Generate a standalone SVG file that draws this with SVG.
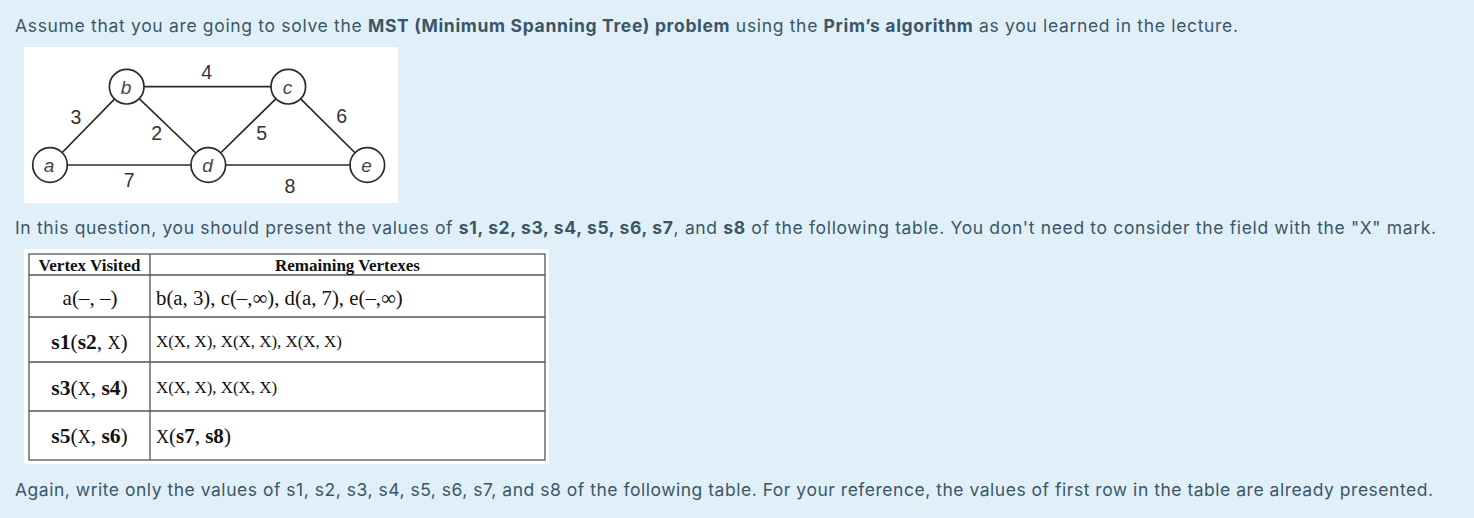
<svg xmlns="http://www.w3.org/2000/svg" width="1474" height="518" viewBox="0 0 1474 518">
<style>
.p{font-family:Inter,"Noto Sans",sans-serif;font-size:17.5px;fill:#3b5666}
.b{font-weight:bold}
.edge{stroke:#2a2a2a;stroke-width:1.7}
.node circle{fill:#fff;stroke:#2a2a2a;stroke-width:1.7}
.nl{font-family:"Liberation Sans",Arial,sans-serif;font-style:italic;font-size:19px;fill:#444;text-anchor:middle}
.wl{font-family:"Liberation Sans",Arial,sans-serif;font-size:19.5px;fill:#333;text-anchor:middle}
.tl{stroke:#555;stroke-width:1.3;fill:none}
.t{font-family:"Liberation Serif","Times New Roman",serif;fill:#111}
.h{font-size:17px;font-weight:bold;text-anchor:middle}
</style>
<rect width="1474" height="518" fill="#e1f0f8"/>
<text class="p" x="15" y="32" textLength="1223" lengthAdjust="spacing">Assume that you are going to solve the <tspan class="b">MST (Minimum Spanning Tree) problem</tspan> using the <tspan class="b">Prim’s algorithm</tspan> as you learned in the lecture.</text>

<rect x="24" y="47" width="374" height="156" fill="#fff"/>
<g id="connectors">
<line class="edge" x1="50" y1="165" x2="126.7" y2="86.7"/>
<line class="edge" x1="126.7" y1="86.7" x2="288.3" y2="86.7"/>
<line class="edge" x1="126.7" y1="86.7" x2="208.3" y2="165"/>
<line class="edge" x1="288.3" y1="86.7" x2="208.3" y2="165"/>
<line class="edge" x1="288.3" y1="86.7" x2="367.3" y2="165"/>
<line class="edge" x1="50" y1="165" x2="208.3" y2="165"/>
<line class="edge" x1="208.3" y1="165" x2="367.3" y2="165"/>
<text class="wl" x="206.7" y="78.5">4</text>
<text class="wl" x="76" y="123.5">3</text>
<text class="wl" x="156.7" y="140">2</text>
<text class="wl" x="261.7" y="140">5</text>
<text class="wl" x="341.7" y="122.5">6</text>
<text class="wl" x="129.3" y="187">7</text>
<text class="wl" x="290" y="192.5">8</text>
</g>
<g id="node-a" class="node"><circle cx="50" cy="165" r="17.3"/><text class="nl" x="49" y="171.5">a</text></g>
<g id="node-b" class="node"><circle cx="126.7" cy="86.7" r="17.3"/><text class="nl" x="126" y="93.5">b</text></g>
<g id="node-c" class="node"><circle cx="288.3" cy="86.7" r="17.3"/><text class="nl" x="287.5" y="93.5">c</text></g>
<g id="node-d" class="node"><circle cx="208.3" cy="165" r="17.3"/><text class="nl" x="207.5" y="171.5">d</text></g>
<g id="node-e" class="node"><circle cx="367.3" cy="165" r="17.3"/><text class="nl" x="366.5" y="171.5">e</text></g>

<text class="p" x="15" y="234" textLength="1421" lengthAdjust="spacing">In this question, you should present the values of <tspan class="b">s1, s2, s3, s4, s5, s6, s7</tspan>, and <tspan class="b">s8</tspan> of the following table. You don't need to consider the field with the "X" mark.</text>

<g id="table">
<rect x="24" y="249" width="525" height="215" fill="#fff"/>
<rect class="tl" x="29" y="254" width="516" height="206"/>
<line class="tl" x1="150" y1="254" x2="150" y2="460"/>
<line class="tl" x1="29" y1="275" x2="545" y2="275"/>
<line class="tl" x1="29" y1="317" x2="545" y2="317"/>
<line class="tl" x1="29" y1="362" x2="545" y2="362"/>
<line class="tl" x1="29" y1="411" x2="545" y2="411"/>
<text class="t h" x="89.5" y="271">Vertex Visited</text>
<text class="t h" x="347.5" y="271">Remaining Vertexes</text>
<text class="t" x="90" y="305" font-size="21" text-anchor="middle">a(–, –)</text>
<text class="t" x="156" y="305" font-size="20.8">b(a, 3), c(–,∞), d(a, 7), e(–,∞)</text>
<text class="t" x="89.5" y="349" font-size="21.5" text-anchor="middle"><tspan font-weight="bold">s1</tspan>(<tspan font-weight="bold">s2</tspan>, <tspan font-size="18">X</tspan>)</text>
<text class="t" x="156" y="347" font-size="16.9">X(X, X), X(X, X), X(X, X)</text>
<text class="t" x="89.5" y="395" font-size="21.5" text-anchor="middle"><tspan font-weight="bold">s3</tspan>(<tspan font-size="18">X</tspan>, <tspan font-weight="bold">s4</tspan>)</text>
<text class="t" x="156" y="393" font-size="16.9">X(X, X), X(X, X)</text>
<text class="t" x="89.5" y="443" font-size="21.5" text-anchor="middle"><tspan font-weight="bold">s5</tspan>(<tspan font-size="18">X</tspan>, <tspan font-weight="bold">s6</tspan>)</text>
<text class="t" x="156" y="443" font-size="21"><tspan font-size="18">X</tspan>(<tspan font-weight="bold">s7</tspan>, <tspan font-weight="bold">s8</tspan>)</text>
</g>

<text class="p" x="15" y="496" textLength="1418" lengthAdjust="spacing">Again, write only the values of s1, s2, s3, s4, s5, s6, s7, and s8 of the following table. For your reference, the values of first row in the table are already presented.</text>
</svg>
